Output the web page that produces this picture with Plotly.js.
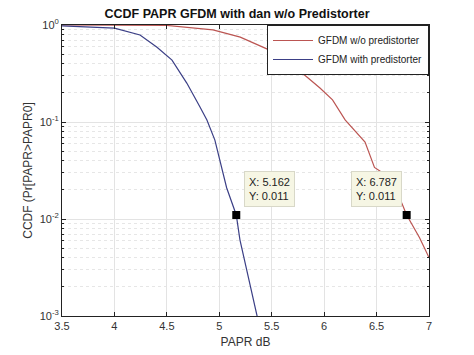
<!DOCTYPE html>
<html>
<head>
<meta charset="utf-8">
<script src="https://cdn.plot.ly/plotly-3.0.1.min.js"></script>
<style>html,body{margin:0;padding:0;background:#fff;}#chart{width:474px;height:355px;}</style>
</head>
<body>
<div id="chart"></div>
<script>
// Data
const paprWithout = [3.5, 4.5, 4.94, 5.2, 5.55, 5.70, 5.96, 6.08, 6.20, 6.39, 6.48, 6.60, 6.74, 6.787, 6.91, 7.0];
const ccdfWithout = [1.0, 0.99, 0.89, 0.75, 0.51, 0.387, 0.224, 0.169, 0.105, 0.062, 0.034, 0.028, 0.0146, 0.011, 0.0064, 0.0040];
const paprWith = [3.5, 4.0, 4.244, 4.406, 4.549, 4.69, 4.816, 4.882, 4.958, 5.07, 5.162, 5.197, 5.37];
const ccdfWith = [0.98, 0.93, 0.79, 0.59, 0.435, 0.252, 0.143, 0.105, 0.065, 0.021, 0.011, 0.0061, 0.0009];
const tipX = [5.162, 6.787];
const tipY = [0.011, 0.011];
const seriesNames = ["GFDM w/o predistorter", "GFDM with predistorter"];
const xTicks = [3.5, 4, 4.5, 5, 5.5, 6, 6.5, 7];
const xTickText = ["3.5", "4", "4.5", "5", "5.5", "6", "6.5", "7"];
const yTicks = [0.001, 0.01, 0.1, 1];
const yTickText = ["10<sup>-3</sup>", "10<sup>-2</sup>", "10<sup>-1</sup>", "10<sup>0</sup>"];

const font = "Liberation Sans, Arial, sans-serif";
const traces = [
  {x: paprWithout, y: ccdfWithout, mode: "lines", name: seriesNames[0],
   line: {color: "#bb5552", width: 1.2}},
  {x: paprWith, y: ccdfWith, mode: "lines", name: seriesNames[1],
   line: {color: "#3b3f86", width: 1.2}},
  {x: tipX, y: tipY, mode: "markers", showlegend: false, hoverinfo: "skip",
   marker: {symbol: "square", size: 8, color: "#000"}}
];

const annotations = tipX.map((xv, i) => ({
  x: xv, y: Math.log10(tipY[i]), xref: "x", yref: "y",
  text: "X: " + xv.toFixed(3) + "<br>Y: " + tipY[i].toFixed(3),
  showarrow: false, align: "left",
  xanchor: i === 0 ? "left" : "right", yanchor: "bottom",
  xshift: i === 0 ? 8 : -5, yshift: 8,
  bgcolor: "#f6f6e4", bordercolor: "#d8d8c8", borderwidth: 1, borderpad: 4,
  font: {family: font, size: 11, color: "#222"}
}));

const layout = {
  width: 474, height: 355,
  margin: {l: 62, r: 45, t: 25, b: 39},
  paper_bgcolor: "#fff", plot_bgcolor: "#fff",
  font: {family: font, size: 11, color: "#333"},
  title: {text: "<b>CCDF PAPR GFDM with dan w/o Predistorter</b>", x: 0.5, xanchor: "center",
          y: 0.975, yanchor: "top", font: {family: font, size: 12.5, color: "#111"}},
  xaxis: {range: [3.5, 7], tickvals: xTicks, ticktext: xTickText,
          showline: true, linecolor: "#222", linewidth: 1, mirror: "ticks",
          ticks: "inside", ticklen: 4, tickcolor: "#222",
          showgrid: true, gridcolor: "#e3e3e3", zeroline: false,
          title: {text: "PAPR dB", font: {family: font, size: 12, color: "#333"}, standoff: 6},
          tickfont: {family: font, size: 11, color: "#333"}},
  yaxis: {type: "log", range: [-3, 0], tickvals: yTicks, ticktext: yTickText,
          showline: true, linecolor: "#222", linewidth: 1, mirror: "ticks",
          ticks: "inside", ticklen: 4, tickcolor: "#222",
          showgrid: true, gridcolor: "#e3e3e3", zeroline: false,
          minor: {dtick: "D1", ticks: "inside", ticklen: 2, tickcolor: "#222",
                  showgrid: true, gridcolor: "#e6e6e6", griddash: "dot"},
          title: {text: "CCDF (Pr[PAPR>PAPR0]", font: {family: font, size: 12, color: "#333"}, standoff: 4},
          tickfont: {family: font, size: 11, color: "#333"}},
  legend: {x: 1, xanchor: "right", y: 1, yanchor: "top",
           bgcolor: "#fff", bordercolor: "#222", borderwidth: 1,
           font: {family: font, size: 10, color: "#222"},
           tracegroupgap: 0, itemwidth: 40},
  annotations: annotations,
  showlegend: true
};

Plotly.newPlot("chart", traces, layout, {displayModeBar: false, staticPlot: true});
</script>
</body>
</html>
